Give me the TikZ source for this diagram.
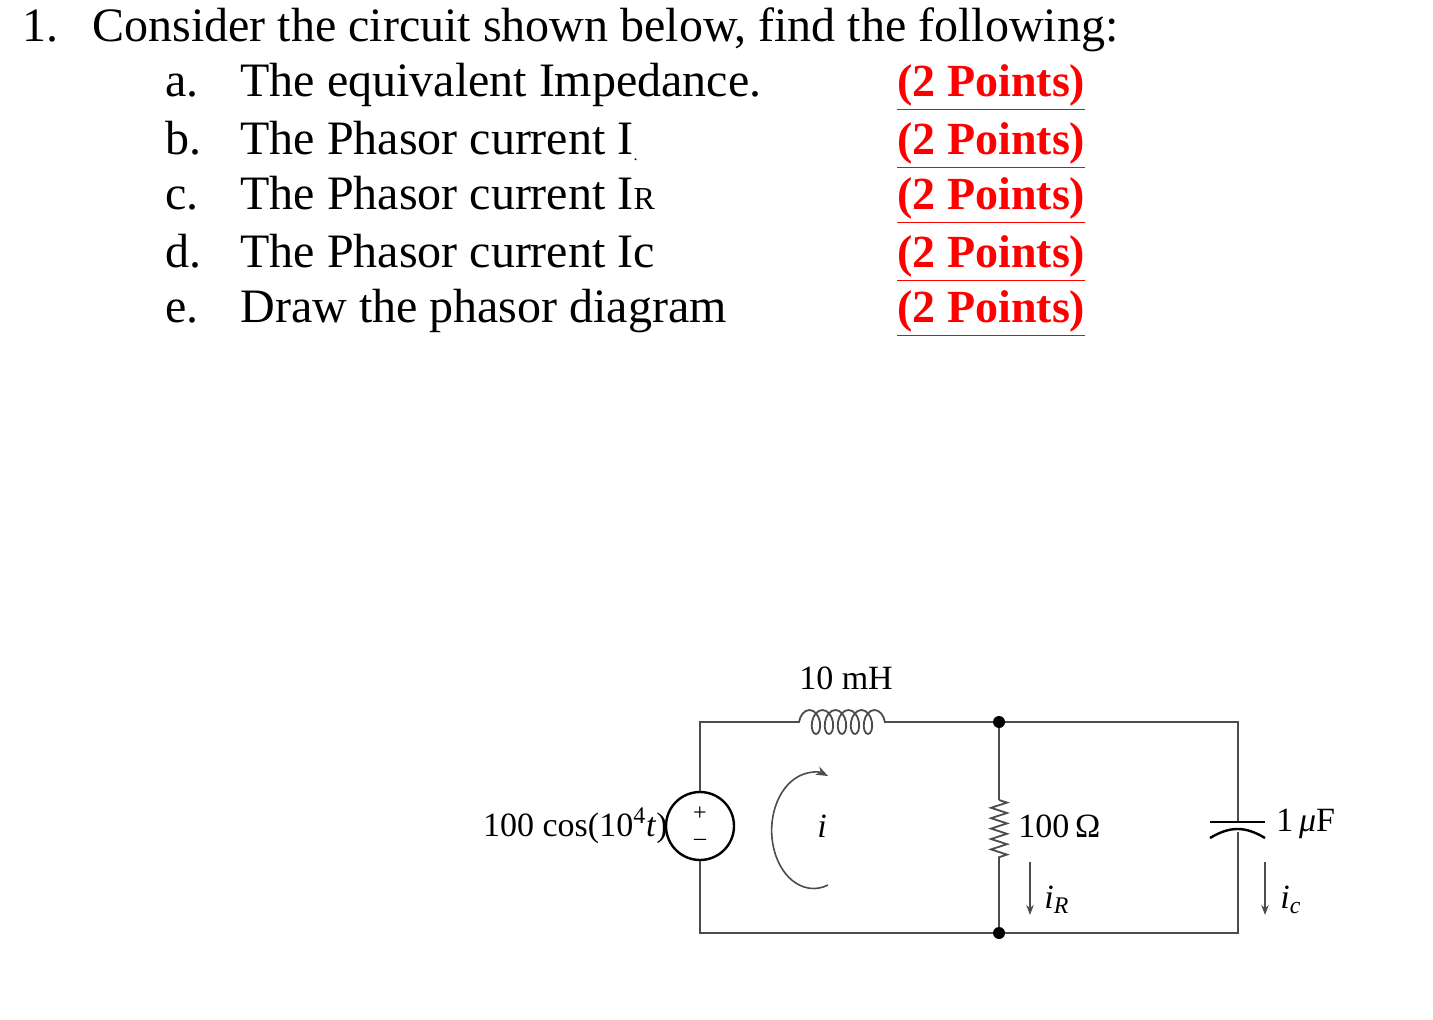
\documentclass[tikz,border=0pt]{standalone}
\usepackage{fontspec}
\setmainfont{Liberation Serif}
\usetikzlibrary{decorations.pathmorphing,arrows.meta}
\begin{document}
\begin{tikzpicture}[x=0.5pt,y=-0.5pt,
  q/.style={anchor=base west,font=\fontsize{24}{28}\selectfont,inner sep=0},
  pts/.style={anchor=base west,font=\fontsize{23}{27}\selectfont\bfseries,text=red,inner sep=0},
  lab/.style={font=\fontsize{17}{20}\selectfont,inner sep=0},
  wire/.style={draw=black!70,line width=0.9pt},
  dot/.style={circle,fill=black,inner sep=0,minimum size=6pt}]
\useasboundingbox (0,0) rectangle (1433,1020);
\node[q] (t1) at (22,42) {1.};
\node[q] (t2) at (92,42) {Consider the circuit shown below, find the following:};
\foreach \l/\t/\y [count=\k] in {a./The equivalent Impedance./97,b./The Phasor current I\raisebox{-3pt}{\fontsize{8}{8}\selectfont.}/155,c./The Phasor current I{\fontsize{16}{16}\selectfont R}/210,d./The Phasor current Ic/268,e./Draw the phasor diagram/323}{
  \node[q] (l\k) at (165,\y) {\l};
  \node[q] (x\k) at (240,\y) {\t};
  \node[pts] (p\k) at (897,\y) {\underline{(2 Points)}};
}
% circuit
\coordinate (tl) at (700,722);
\coordinate (bl) at (700,933);
\node[dot] (nt) at (999,722) {};
\node[dot] (nb) at (999,933) {};
\coordinate (tr) at (1238,722);
\coordinate (br) at (1238,933);
\node[circle,draw=black,line width=1.2pt,minimum size=34pt,inner sep=0] (src) at (700,826) {};
\node[font=\fontsize{12}{12}\selectfont,inner sep=0] (sp) at (700,814) {+};
\node[font=\fontsize{12}{12}\selectfont,inner sep=0] (sm) at (700,842) {--};
\coordinate (la) at (795,722);
\coordinate (lb) at (890,722);
\draw[wire] (src) -- (tl) -- (la);
\draw[wire,decorate,decoration={coil,aspect=0.6,segment length=6.5pt,amplitude=6pt,pre length=2pt,post length=2pt}] (la) -- (lb);
\draw[wire] (lb) -- (nt) -- (tr) -- (1238,822);
\draw[wire] (1238,832) -- (br) -- (nb) -- (bl) -- (src);
\coordinate (ra) at (999,800);
\coordinate (rb) at (999,862);
\draw[wire] (nt) -- (ra);
\draw[wire,decorate,decoration={zigzag,segment length=5.2pt,amplitude=4pt}] (ra) -- (rb);
\draw[wire] (rb) -- (nb);
% capacitor
\draw[line width=1.2pt] (1210,822) -- (1265,822);
\draw[line width=1.2pt] (1210,838) .. controls (1230,826) and (1245,826) .. (1265,838);
% labels
\node[lab] (lL) at (846,678) {10 mH};
\node[lab,anchor=east] (lV) at (668,826) {100 cos(10\textsuperscript{4}\textit{t})};
\node[lab,anchor=west] (lR) at (1018,826) {100\,Ω};
\node[lab,anchor=west] (lC) at (1276,824) {1\,\textit{μ}F};
\node[lab] (li) at (822,826) {\textit{i}};
\draw[black!70,line width=0.8pt,-{Stealth[length=6pt]}] (828,885) arc[start angle=290,end angle=70,x radius=21pt,y radius=29pt];
\draw[black!70,line width=0.8pt,-{Stealth[length=5pt]}] (1030,862) -- (1030,915);
\node[lab,anchor=west] (liR) at (1044,900) {\textit{i}\textsubscript{\textit{R}}};
\draw[black!70,line width=0.8pt,-{Stealth[length=5pt]}] (1265,862) -- (1265,915);
\node[lab,anchor=west] (liC) at (1280,900) {\textit{i}\textsubscript{\textit{c}}};
\end{tikzpicture}
\end{document}
